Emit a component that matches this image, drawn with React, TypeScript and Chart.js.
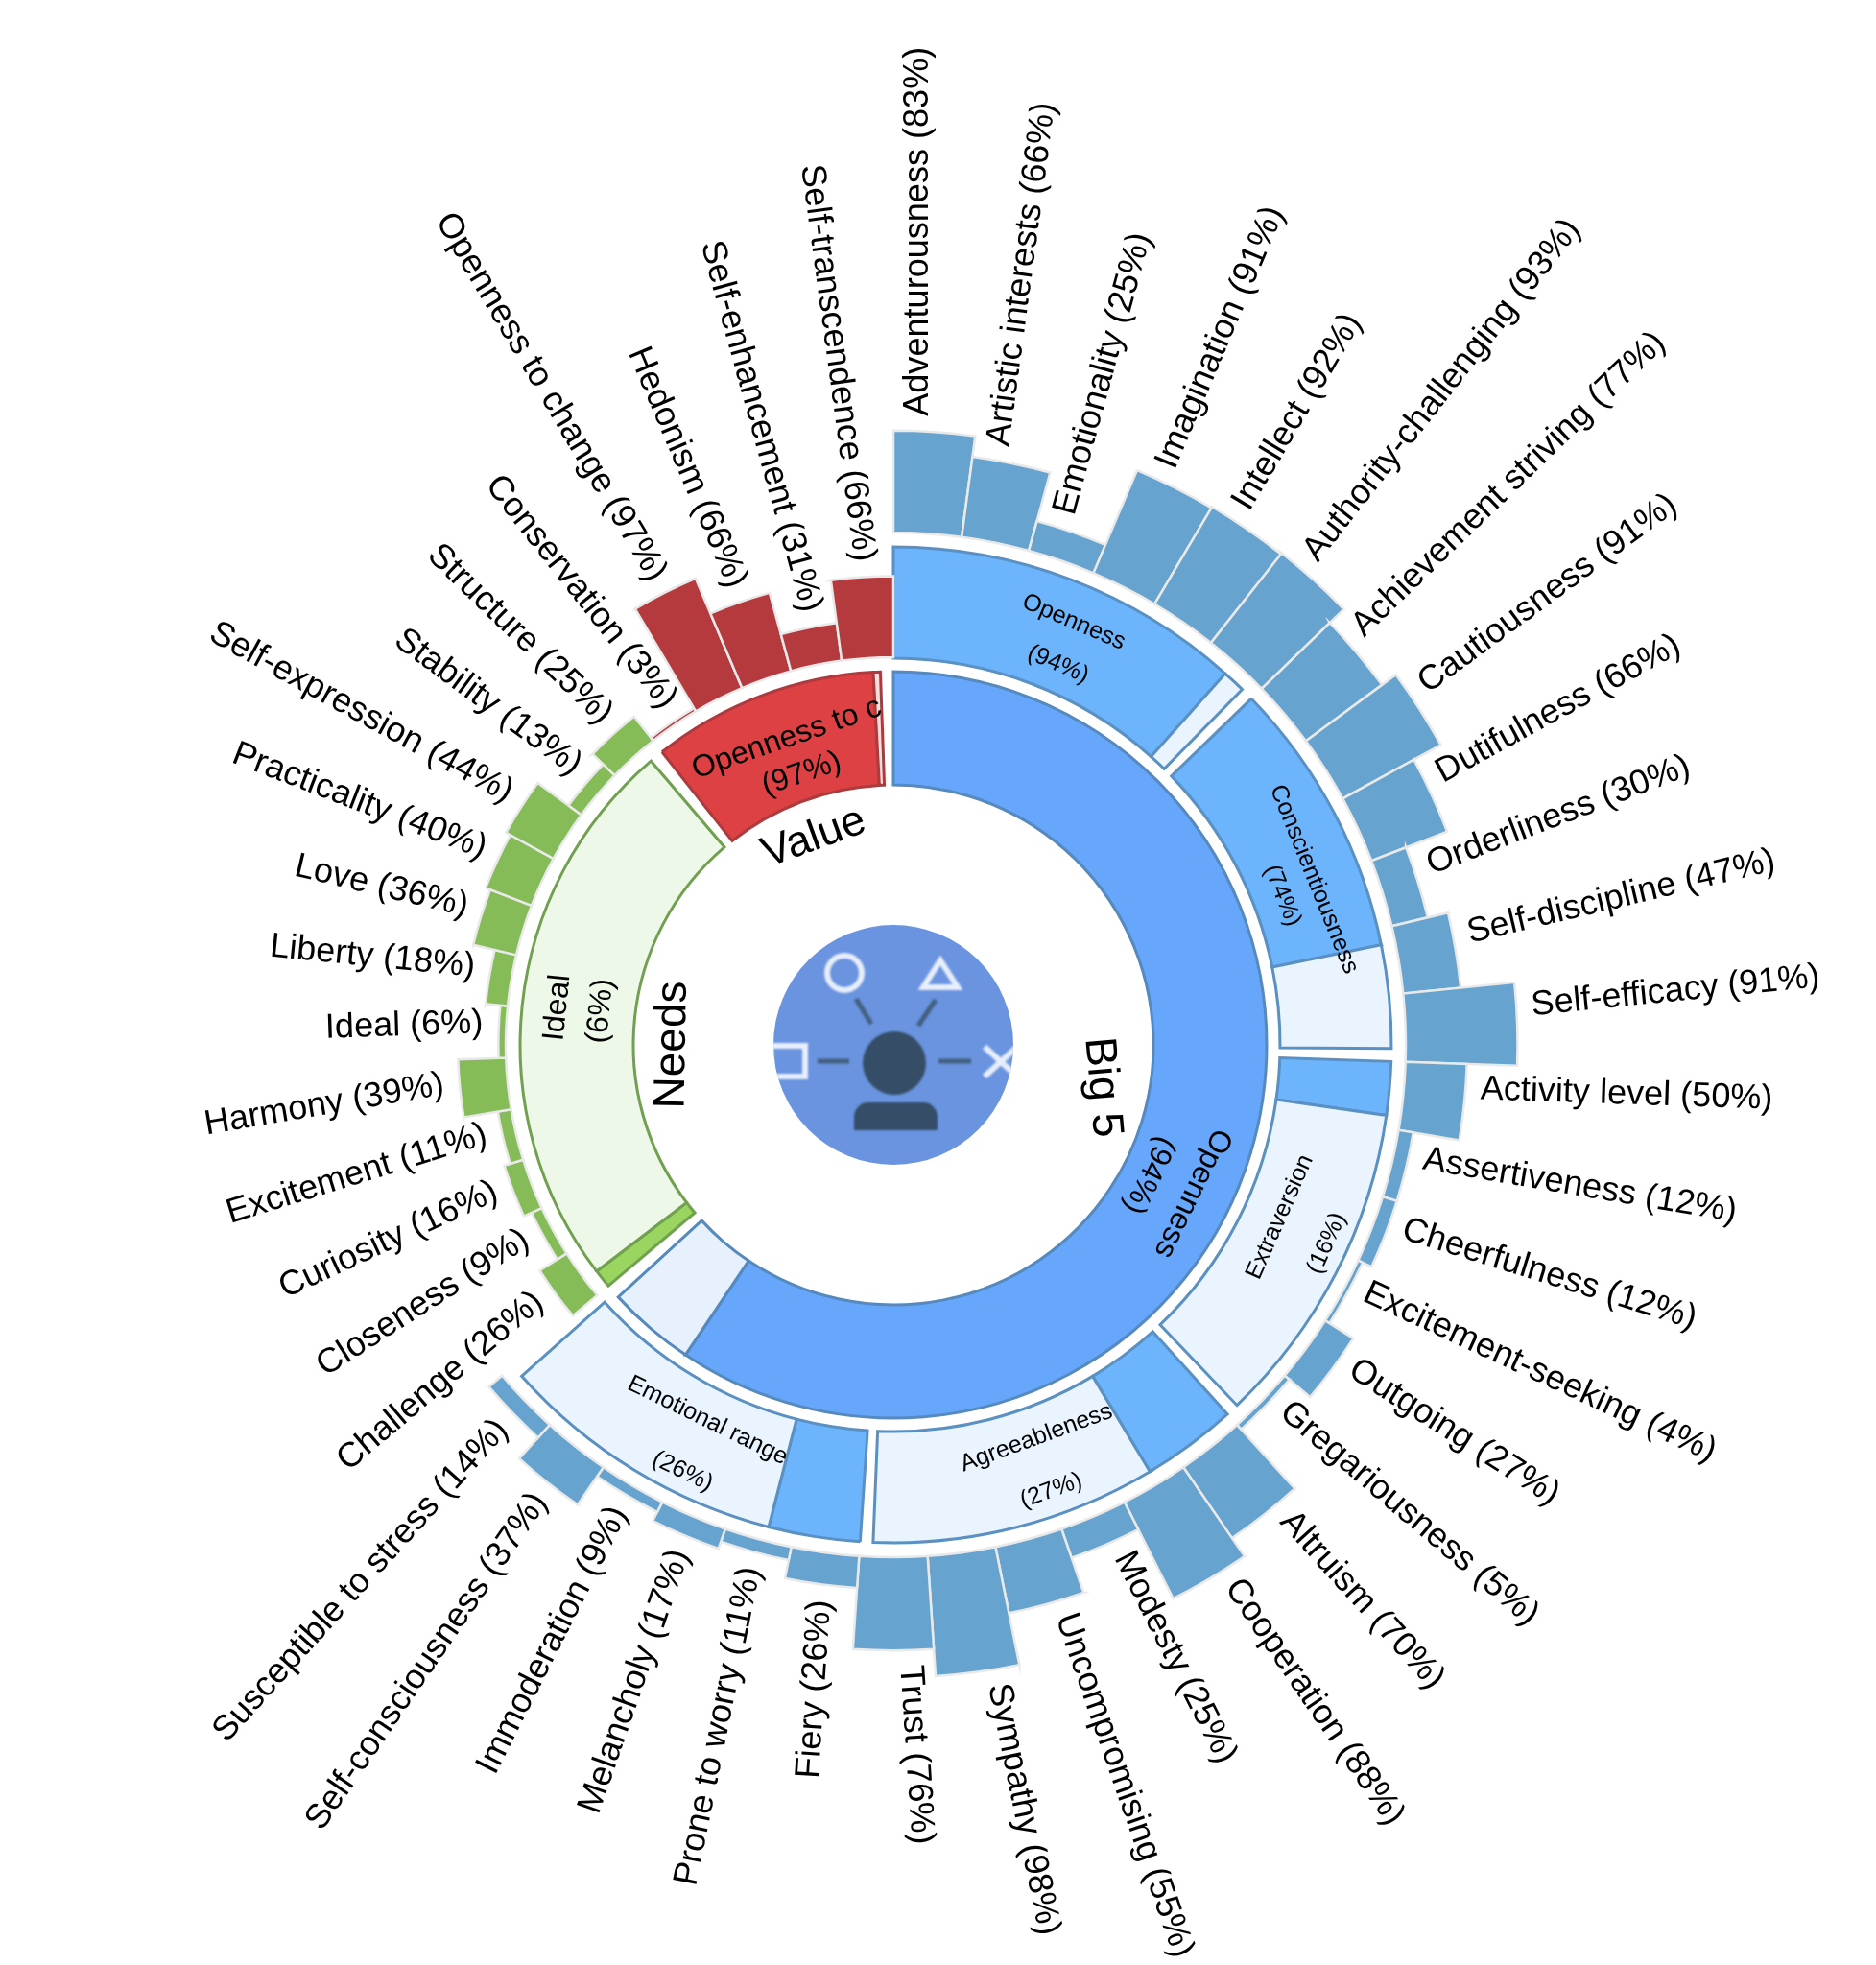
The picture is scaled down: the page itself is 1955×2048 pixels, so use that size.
import React, { useEffect, useRef } from 'react';
import { Chart, PolarAreaController, registerables } from 'chart.js';

// outer bars, clockwise from 12 o'clock
const big5Traits = [
  'Adventurousness', 'Artistic interests', 'Emotionality', 'Imagination', 'Intellect', 'Authority-challenging',
  'Achievement striving', 'Cautiousness', 'Dutifulness', 'Orderliness', 'Self-discipline', 'Self-efficacy',
  'Activity level', 'Assertiveness', 'Cheerfulness', 'Excitement-seeking', 'Outgoing', 'Gregariousness',
  'Altruism', 'Cooperation', 'Modesty', 'Uncompromising', 'Sympathy', 'Trust',
  'Fiery', 'Prone to worry', 'Melancholy', 'Immoderation', 'Self-consciousness', 'Susceptible to stress',
];
const big5Values = [
  83, 66, 25, 91, 92, 93,
  77, 91, 66, 30, 47, 91,
  50, 12, 12, 4, 27, 5,
  70, 88, 25, 55, 98, 76,
  26, 11, 17, 9, 37, 14,
];
const needsTraits = [
  'Challenge', 'Closeness', 'Curiosity', 'Excitement', 'Harmony', 'Ideal',
  'Liberty', 'Love', 'Practicality', 'Self-expression', 'Stability', 'Structure',
];
const needsValues = [26, 9, 16, 11, 39, 6, 18, 36, 40, 44, 13, 25];
const valueTraits = ['Conservation', 'Openness to change', 'Hedonism', 'Self-enhancement', 'Self-transcendence'];
const valueValues = [3, 97, 66, 31, 66];

// ring sectors: filled share of each sector as it reads off the picture
const big5Dimensions = ['Openness', 'Conscientiousness', 'Extraversion', 'Agreeableness', 'Emotional range'];
const big5DimensionPct = [94, 74, 16, 27, 26];
const big5DimensionFill = [94, 73, 14, 25, 24];
const topFill = { big5: 94, needs: 3.2, value: 97 };

const PX_PER_PCT = 1.28;
const SCALE_RADIUS = 931;
const toUnit = (px: number) => px / PX_PER_PCT;
const STEP = 360 / (big5Traits.length + needsTraits.length + valueTraits.length);
const FONT = '"Liberation Sans", Arial, sans-serif';

const BIG5_BASE = toUnit(534);
const OTHER_BASE = toUnit(404);

class RingArcController extends PolarAreaController {
  static id = 'ringArc';
  updateElement(element: any, index: number, properties: any, mode: any) {
    if (properties) {
      const dataset: any = this.getDataset();
      const inner = dataset.innerValues[index];
      properties.innerRadius = (this as any)._cachedMeta.rScale.getDistanceFromCenterForValue(inner);
    }
    super.updateElement(element, index, properties, mode);
  }
}
Chart.register(...registerables, RingArcController as any);

// one ring: filled part then pale part of each sector, then the white gap
function ringDataset(sectors: { width: number; fill: number; gap: number; color: string; pale: string; border: string }[], inner: number, outer: number) {
  const angle: number[] = [];
  const backgroundColor: string[] = [];
  const borderColor: string[] = [];
  const borderWidth: number[] = [];
  sectors.forEach((s) => {
    const w = s.width - s.gap;
    angle.push((w * s.fill) / 100, (w * (100 - s.fill)) / 100, s.gap);
    backgroundColor.push(s.color, s.pale, 'rgba(0,0,0,0)');
    borderColor.push(s.border, s.border, 'rgba(0,0,0,0)');
    borderWidth.push(3, 3, 0);
  });
  return {
    data: angle.map(() => toUnit(outer)),
    innerValues: angle.map(() => toUnit(inner)),
    angle,
    backgroundColor,
    borderColor,
    borderWidth,
    borderJoinStyle: 'miter',
  };
}

const BLUE1 = { color: '#66a7fb', pale: '#e6f1fd', border: '#5689bd' };
const BLUE2 = { color: '#6cb4fc', pale: '#e9f4fe', border: '#5a90c2' };
const GREEN = { color: '#99d55f', pale: '#eef8e8', border: '#71a150' };
const RED = { color: '#dd4144', pale: '#fbdede', border: '#ad3a3d' };

const barValues = [
  ...big5Values.map((v) => BIG5_BASE + v),
  ...needsValues.map((v) => OTHER_BASE + v),
  ...valueValues.map((v) => OTHER_BASE + v),
];
const barColors = [
  ...big5Values.map(() => '#66a3cf'),
  ...needsValues.map(() => '#86bc58'),
  ...valueValues.map(() => '#b43a3e'),
];
const barInner = [
  ...big5Values.map(() => BIG5_BASE),
  ...needsValues.map(() => OTHER_BASE),
  ...valueValues.map(() => OTHER_BASE),
];
const barNames = [...big5Traits, ...needsTraits, ...valueTraits];
const barPcts = [...big5Values, ...needsValues, ...valueValues];

// [text, angle deg, radius px, rotation deg, font px]
const ringTexts: [string, number, number, number, number][] = [
  [big5Dimensions[0], 23.1, 479, 23, 25],
  [`(${big5DimensionPct[0]}%)`, 23.4, 432, 23, 25],
  [big5Dimensions[1], 68.5, 471, 68, 25],
  [`(${big5DimensionPct[1]}%)`, 69, 434, 68, 25],
  [big5Dimensions[2], 114, 441, -66, 25],
  [`(${big5DimensionPct[2]}%)`, 114.6, 497, -66, 25],
  [big5Dimensions[3], 160, 436, -20, 25],
  [`(${big5DimensionPct[3]}%)`, 160.5, 493, -20, 25],
  [big5Dimensions[4], 206.3, 437, 26, 25],
  [`(${big5DimensionPct[4]}%)`, 206.3, 496, 26, 25],
  ['Openness', 116.4, 348, 116, 32],
  ['(94%)', 117, 299, 116, 32],
  ['Ideal', 276.3, 352, -84, 32],
  ['(6%)', 276.6, 307, -84, 32],
  ['Openness to c', 340.8, 338, -19, 32],
  ['(97%)', 341.3, 298, -19, 32],
  ['Value', 339, 231, -20, 45],
  ['Needs', 270, 230, -89, 46],
  ['Big 5', 101.5, 222, 85, 46],
];

const labelPlugin = {
  id: 'labelPlugin',
  afterDatasetsDraw(chart: any) {
    const { ctx } = chart;
    const scale = chart.scales.r;
    const cx = scale.xCenter;
    const cy = scale.yCenter;
    const bars = chart.getDatasetMeta(0).data;

    ctx.save();
    ctx.fillStyle = '#000';
    ctx.font = `36.1px ${FONT}`;
    ctx.textBaseline = 'alphabetic';
    bars.forEach((arc: any, i: number) => {
      const text = `${barNames[i]} (${barPcts[i]}%)`;
      const start = arc.startAngle + Math.PI / 2;
      const r = arc.outerRadius + 15;
      ctx.save();
      ctx.translate(cx, cy);
      ctx.rotate(start);
      if (start < Math.PI) {
        ctx.rotate(-Math.PI / 2);
        ctx.textAlign = 'start';
        ctx.fillText(text, r, 36);
      } else {
        ctx.rotate(Math.PI / 2);
        ctx.textAlign = 'end';
        ctx.fillText(text, -r, -27);
      }
      ctx.restore();
    });

    ctx.textAlign = 'center';
    ctx.textBaseline = 'middle';
    ringTexts.forEach(([text, deg, r, rot, size]) => {
      const a = (deg * Math.PI) / 180;
      ctx.save();
      ctx.translate(cx + r * Math.sin(a), cy - r * Math.cos(a));
      ctx.rotate((rot * Math.PI) / 180);
      ctx.font = `${size}px ${FONT}`;
      ctx.fillText(text, 0, 0);
      ctx.restore();
    });
    ctx.restore();
  },
};

// the blurry round picture in the middle of the sunburst
const iconPlugin = {
  id: 'iconPlugin',
  beforeDatasetsDraw(chart: any) {
    const { ctx } = chart;
    const cx = chart.scales.r.xCenter;
    const cy = chart.scales.r.yCenter;
    ctx.save();
    ctx.translate(cx, cy);
    ctx.beginPath();
    ctx.arc(0, 0, 125, 0, Math.PI * 2);
    ctx.fillStyle = '#6a94e0';
    ctx.fill();
    ctx.clip();
    ctx.filter = 'blur(1px)';
    ctx.fillStyle = '#354d66';
    ctx.beginPath();
    ctx.arc(1, 19, 33, 0, Math.PI * 2);
    ctx.fill();
    ctx.beginPath();
    ctx.roundRect(-41, 60, 87, 29, [15, 15, 0, 0]);
    ctx.fill();
    ctx.strokeStyle = '#42607f';
    ctx.lineWidth = 5;
    [
      [-39, -48, -23, -22],
      [44, -47, 26, -20],
      [-79, 17, -46, 17],
      [47, 17, 81, 17],
    ].forEach(([x1, y1, x2, y2]) => {
      ctx.beginPath();
      ctx.moveTo(x1, y1);
      ctx.lineTo(x2, y2);
      ctx.stroke();
    });
    ctx.strokeStyle = '#e8eefb';
    ctx.lineWidth = 6;
    ctx.beginPath();
    ctx.arc(-51, -75, 18, 0, Math.PI * 2);
    ctx.stroke();
    ctx.beginPath();
    ctx.moveTo(49, -88);
    ctx.lineTo(67, -60);
    ctx.lineTo(31, -60);
    ctx.closePath();
    ctx.stroke();
    ctx.strokeRect(-128, 1, 36, 32);
    ctx.beginPath();
    ctx.moveTo(95, 2);
    ctx.lineTo(129, 33);
    ctx.moveTo(129, 2);
    ctx.lineTo(95, 33);
    ctx.stroke();
    ctx.restore();
  },
};

export default function App() {
  const canvasRef = useRef<HTMLCanvasElement | null>(null);

  useEffect(() => {
    if (!canvasRef.current) return;
    const big5Width = STEP * big5Traits.length;
    const needsWidth = STEP * needsTraits.length;
    const valueWidth = STEP * valueTraits.length;

    const chart = new Chart(canvasRef.current, {
      type: 'ringArc' as any,
      data: {
        labels: barNames,
        datasets: [
          {
            data: barValues,
            innerValues: barInner,
            angle: barValues.map(() => STEP),
            backgroundColor: barColors,
            borderColor: '#e9e9e9',
            borderWidth: 2.5,
            borderJoinStyle: 'miter',
          },
          ringDataset(
            big5DimensionFill.map((fill) => ({ width: big5Width / 5, fill, gap: 1.5, ...BLUE2 })).concat([
              { width: needsWidth + valueWidth - 0.001, fill: 0, gap: needsWidth + valueWidth - 0.002, color: 'rgba(0,0,0,0)', pale: 'rgba(0,0,0,0)', border: 'rgba(0,0,0,0)' },
            ]),
            403,
            519,
          ),
          ringDataset(
            [
              { width: big5Width, fill: topFill.big5, gap: 2.3, ...BLUE1 },
              { width: needsWidth, fill: topFill.needs, gap: 2.2, ...GREEN },
              { width: valueWidth, fill: topFill.value, gap: 2, ...RED },
            ],
            271,
            389,
          ),
        ] as any,
      },
      options: {
        responsive: false,
        animation: false,
        layout: { padding: { top: 130, right: 93, left: 0, bottom: 0 } },
        plugins: { legend: { display: false }, tooltip: { enabled: false } },
        scales: {
          r: {
            type: 'radialLinear',
            display: false,
            min: 0,
            max: toUnit(SCALE_RADIUS),
            startAngle: 0,
          },
        },
      } as any,
      plugins: [iconPlugin, labelPlugin],
    });

    return () => chart.destroy();
  }, []);

  return (
    <div style={{ position: 'absolute', left: 0, top: 0, width: 1955, height: 2048, background: '#fff' }}>
      <canvas ref={canvasRef} width={1955} height={2048} style={{ display: 'block' }} />
    </div>
  );
}
